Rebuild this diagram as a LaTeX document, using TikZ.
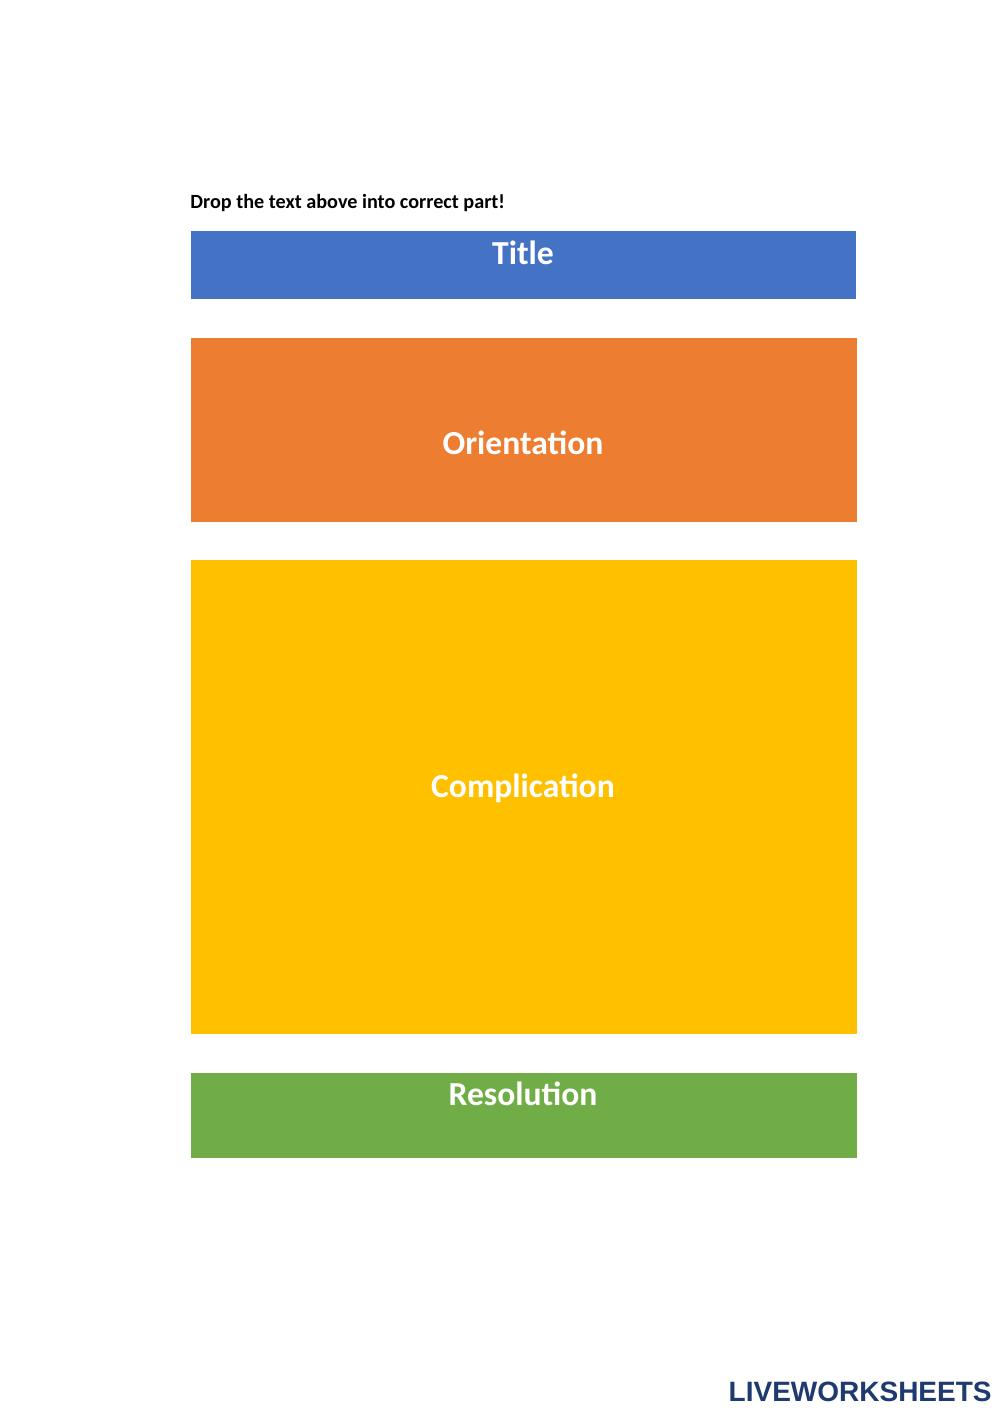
\documentclass[tikz,border=0pt]{standalone}
\usepackage{fontspec}
\setmainfont{Carlito}
\newfontfamily\logofont{Liberation Sans}
\definecolor{cblue}{HTML}{4472C4}
\definecolor{corange}{HTML}{ED7D31}
\definecolor{cyellow}{HTML}{FFC000}
\definecolor{cgreen}{HTML}{70AD47}
\definecolor{clogo}{HTML}{1F3A6E}
\begin{document}
\begin{tikzpicture}[x=0.5pt,y=-0.5pt,
  lbl/.style={text=white,font=\bfseries\fontsize{16.8}{18}\selectfont,inner sep=0pt}]
\useasboundingbox[fill=white] (0,0) rectangle (1000,1413);
\node[anchor=west,inner sep=0pt,font=\bfseries\fontsize{10.1}{12}\selectfont] (instr) at (190,203) {Drop the text above into correct part!};
\fill[cblue] (191,231) rectangle (856,299);
\node[lbl] (title) at (523,253) {Title};
\fill[corange] (191,338) rectangle (857,522);
\node[lbl] (orient) at (523,443) {Orientation};
\fill[cyellow] (191,560) rectangle (857,1034);
\node[lbl] (comp) at (523,788) {Complication};
\fill[cgreen] (191,1073) rectangle (857,1158);
\node[lbl] (res) at (523,1094) {Resolution};
\node[anchor=east,inner sep=0pt,text=clogo,font=\logofont\bfseries\fontsize{14}{15}\selectfont] (logo) at (992,1392) {LIVEWORKSHEETS};
\end{tikzpicture}
\end{document}
